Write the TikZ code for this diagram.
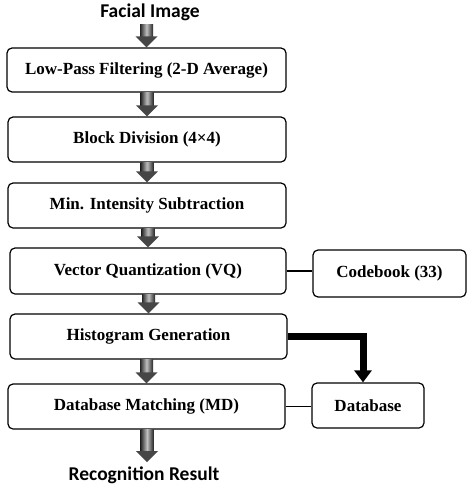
\documentclass[tikz,border=0pt]{standalone}
\usepackage{fontspec}
\setmainfont{Liberation Serif}
\newfontfamily\labelfont{Carlito}
\usetikzlibrary{arrows.meta, calc, positioning}
\tikzset{
  stagebox/.style={draw, line width=1.2pt, rounded corners=5pt, minimum width=278pt, minimum height=45pt, inner sep=0pt, font=\fontsize{17}{18}\selectfont\bfseries},
  endlabel/.style={font=\labelfont\fontsize{19.5}{21}\selectfont\bfseries}
}
% gray block arrow from one node down to the next
\newcommand{\flowarrow}[2]{%
  \shade[left color=black!85, right color=black!85, middle color=gray!50]
    ($(#2.north |- #1.south)+(-6.5,0)$) rectangle ($(#2.north)+(6.5,-10)$);
  \fill[gray!55!black] ($(#2.north)+(-11,-11)$) -- (#2.north) -- ($(#2.north)+(11,-11)$) -- cycle;}

\begin{document}
\begin{tikzpicture}[x=1pt, y=-1pt]
	\useasboundingbox (0,0) rectangle (474,490);

	\node [endlabel] (face) at (150,12) {Facial Image};

	\node [stagebox, minimum width=279pt, minimum height=44pt] (lowpass) at (146.5,70) {Low-Pass Filtering (2-D Average)};
	\node [stagebox] (block) at (147,139.5) {Block Division (4×4)};
	\node [stagebox] (minint) at (147,205.5) {Min. Intensity Subtraction};
	\node [stagebox, minimum width=276pt, minimum height=46pt] (vq) at (148,271) {Vector Quantization (VQ)};
	\node [stagebox, minimum width=277pt] (hist) at (148.5,336.5) {Histogram Generation};
	\node [stagebox, minimum width=277pt] (match) at (146.5,406.5) {Database Matching (MD)};

	\node [stagebox, minimum width=153pt, minimum height=47pt] (codebook) at (389.5,273.5) {Codebook (33)};
	\node [stagebox, minimum width=112pt] (database) at (368,405.5) {Database};

	\node [endlabel] (result) at (144,475) {Recognition Result};
	\coordinate (resulttop) at (147,462);

	\flowarrow{face}{lowpass}
	\flowarrow{lowpass}{block}
	\flowarrow{block}{minint}
	\flowarrow{minint}{vq}
	\flowarrow{vq}{hist}
	\flowarrow{hist}{match}
	\flowarrow{match}{resulttop}

	\draw [line width=1.5pt] (vq.east) -- (vq.east -| codebook.west);
	\draw [line width=1.5pt] (match.east) -- (match.east -| database.west);

	\draw [line width=7pt, -{Triangle[width=17pt, length=12pt]}] (hist.east) -| ([xshift=-5pt]database.north);

\end{tikzpicture}
\end{document}
